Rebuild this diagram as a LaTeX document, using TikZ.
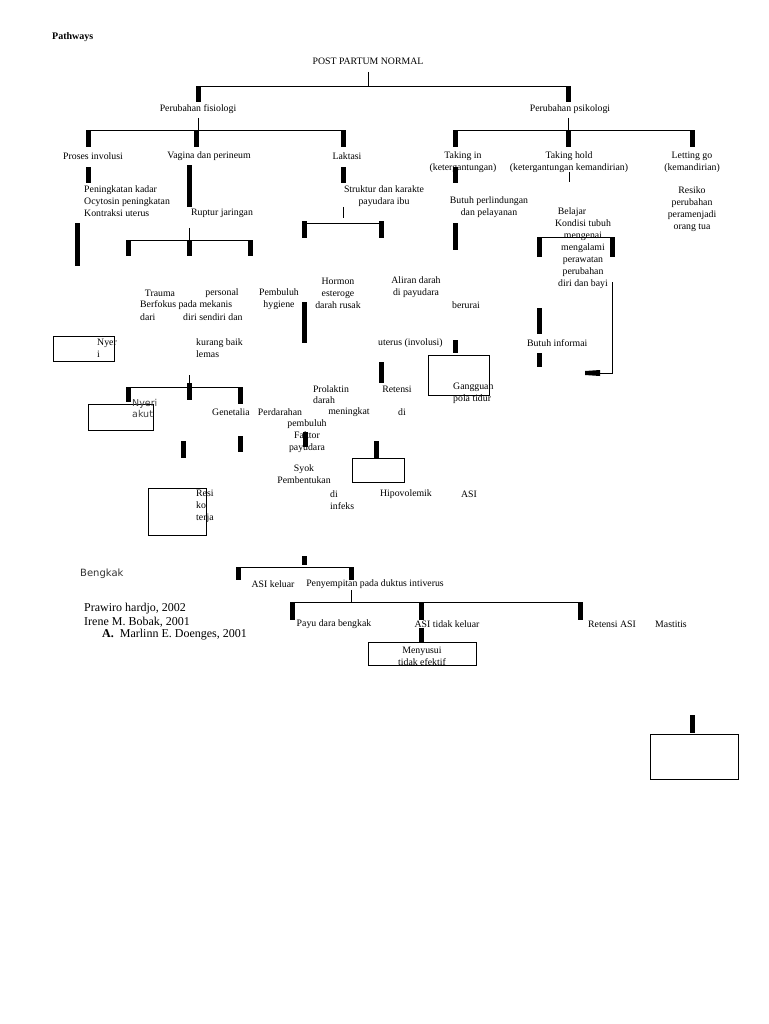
\documentclass[tikz,border=0pt]{standalone}
\usepackage{fontspec}
\setmainfont{Liberation Serif}
\setsansfont{DejaVu Sans}
\newcommand{\vb}[3]{\fill (#1-2.5,-#2) rectangle (#1+2.5,-#3);}
\begin{document}
\begin{tikzpicture}[x=1pt,y=1pt,
  t/.style={inner sep=0pt,font=\fontsize{9.8}{12}\selectfont},
  tl/.style={t,anchor=west},
  bx/.style={draw,line width=0.7pt},
  ln/.style={line width=0.7pt}]
\useasboundingbox[fill=white] (0,0) rectangle (768,-1024);
\node[tl,font=\bfseries\fontsize{10}{12}\selectfont] (pw) at (52,-37) {Pathways};
\node[t] (ppn) at (368,-61) {POST PARTUM NORMAL};
\draw[ln] (368,-72) -- (368,-86); \draw[ln] (198,-86) -- (568,-86);
\vb{198}{86}{102}\vb{568}{86}{102}
\node[t] (pf) at (198,-109) {Perubahan fisiologi};
\node[t] (pp) at (570,-109) {Perubahan psikologi};
\draw[ln] (198,-118) -- (198,-130); \draw[ln] (88,-130) -- (343,-130);
\vb{88}{130}{147}\vb{196}{130}{147}\vb{343}{130}{147}
\draw[ln] (568,-118) -- (568,-130); \draw[ln] (455,-130) -- (692,-130);
\vb{455}{130}{147}\vb{568}{130}{147}\vb{692}{130}{147}
\node[t] (pi) at (93,-156) {Proses involusi};
\node[t] (vp) at (209,-156) {Vagina dan perineum};
\node[t] (lk) at (347,-156) {Laktasi};
\node[t,align=center] (ti) at (463,-162) {Taking in\\(ketergantungan)};
\node[t,align=center] (th) at (569,-162) {Taking hold\\(ketergantungan kemandirian)};
\node[t,align=center] (lg) at (692,-162) {Letting go\\(kemandirian)};
\vb{88}{167}{183}
\node[tl,align=left] (pk) at (84,-201) {Peningkatan kadar\\Ocytosin peningkatan\\Kontraksi uterus};
\vb{189}{165}{207}
\node[t] (rj) at (222,-213) {Ruptur jaringan};
\vb{343}{167}{183}
\node[t,align=center] (sk) at (384,-196) {Struktur dan karakte\\payudara ibu};
\draw[ln] (343,-207) -- (343,-218); \draw[ln] (304,-223) -- (381,-223);
\vb{304}{221}{238}\vb{381}{221}{238}
\vb{455}{167}{183}
\node[t,align=center] (bp) at (489,-207) {Butuh perlindungan\\dan pelayanan};
\draw[ln] (569,-172) -- (569,-182);
\vb{455}{223}{250}
\node[t] (bl) at (572,-212) {Belajar};
\node[t,align=center] (kt) at (583,-254) {Kondisi tubuh\\mengenai\\mengalami\\perawatan\\perubahan\\diri dan bayi};
\draw[ln] (538,-237) -- (612,-237);
\vb{539}{237}{257}\vb{612}{237}{257}
\draw[ln] (612,-282) -- (612,-373) -- (598,-373);
\fill (585,-371) -- (600,-370) -- (600,-376) -- (585,-375) -- cycle;
\node[t,align=center] (rs) at (692,-209) {Resiko\\perubahan\\peramenjadi\\orang tua};
\vb{77}{223}{266}
\draw[ln] (189,-228) -- (189,-240); \draw[ln] (128,-240) -- (250,-240);
\vb{128}{240}{256}\vb{189}{240}{256}\vb{250}{240}{256}
\node[t] (tr) at (160,-293) {Trauma};
\node[t] (ps) at (222,-293) {personal};
\node[tl] (bf) at (140,-305) {Berfokus pada mekanis};
\node[tl] (dr) at (140,-317) {dari};
\node[tl] (ds) at (183,-317) {diri sendiri dan};
\node[t,align=center] (ph) at (279,-299) {Pembuluh\\hygiene};
\node[t,align=center] (hm) at (338,-293) {Hormon\\esteroge\\darah rusak};
\node[t,align=center] (ad) at (416,-287) {Aliran darah\\di payudara};
\node[t] (br) at (466,-305) {berurai};
\vb{304}{302}{343}
\draw[bx] (53,-336) rectangle (114,-361);
\node[tl,align=left] (ny) at (97,-348) {Nyer\\i};
\node[tl,align=left] (kb) at (196,-348) {kurang baik\\lemas};
\node[tl] (ui) at (378,-343) {uterus (involusi)};
\vb{455}{340}{353}
\node[tl] (bi) at (527,-343) {Butuh informai};
\vb{539}{308}{334}\vb{539}{353}{367}
\draw[bx] (428,-355) rectangle (489,-395);
\node[tl,align=left] (gp) at (453,-393) {Gangguan\\pola tidur};
\vb{381}{362}{383}
\draw[ln] (189,-375) -- (189,-387); \draw[ln] (128,-387) -- (240,-387);
\vb{128}{387}{402}\vb{189}{383}{400}\vb{240}{387}{404}
\draw[bx] (88,-404) rectangle (153,-430);
\node[tl,align=left,font=\sffamily\fontsize{9.5}{11}\selectfont,text=black!75] (na) at (132,-408) {Nyeri\\akut};
\node[t] (gn) at (231,-412) {Genetalia};
\node[t] (pd) at (280,-412) {Perdarahan};
\node[t] (pr) at (331,-389) {Prolaktin};
\node[tl] (dh) at (313,-400) {darah};
\node[t] (mn) at (349,-412) {meningkat};
\node[t] (rt) at (397,-389) {Retensi};
\node[t] (di1) at (402,-412) {di};
\node[t,align=center] (pbp) at (307,-436) {pembuluh\\Faktor\\payudara};
\vb{305}{432}{447}
\vb{183}{441}{458}\vb{240}{436}{452}\vb{376}{441}{458}
\draw[bx] (352,-458) rectangle (404,-482);
\node[t,align=center] (sy) at (304,-474) {Syok\\Pembentukan};
\draw[bx] (148,-488) rectangle (206,-535);
\node[tl,align=left] (rk) at (196,-506) {Resi\\ko\\terja};
\node[tl,align=left] (inf) at (330,-500) {di\\infeks};
\node[t] (hv) at (406,-494) {Hipovolemik};
\node[t] (asi) at (469,-494) {ASI};
\node[tl,font=\sffamily\fontsize{10}{12}\selectfont,text=black!80] (bk) at (80,-574) {Bengkak};
\vb{304}{556}{565}
\draw[ln] (238,-567) -- (352,-567);
\vb{238}{567}{580}\vb{351}{567}{580}
\node[t] (ak) at (273,-584) {ASI keluar};
\node[t] (pdi) at (375,-584) {Penyempitan pada duktus intiverus};
\draw[ln] (351,-590) -- (351,-602); \draw[ln] (292,-602) -- (580,-602);
\vb{292}{602}{620}\vb{421}{602}{620}\vb{580}{602}{620}
\node[t] (pdb) at (334,-624) {Payu dara bengkak};
\node[t] (atk) at (447,-624) {ASI tidak keluar};
\node[t] (ra) at (612,-624) {Retensi ASI};
\node[t] (ms) at (671,-624) {Mastitis};
\vb{421}{628}{642}
\draw[bx] (368,-642) rectangle (476,-665);
\node[t,align=center] (mt) at (422,-656) {Menyusui\\tidak efektif};
\node[tl,font=\fontsize{12}{13}\selectfont] (r1) at (84,-609) {Prawiro hardjo, 2002};
\node[tl,font=\fontsize{12}{13}\selectfont] (r2) at (84,-622) {Irene M. Bobak, 2001};
\node[tl,font=\fontsize{12}{13}\selectfont] (r3) at (102,-635) {\textbf{A.}\enspace Marlinn E. Doenges, 2001};
\vb{692}{715}{733}
\draw[bx] (650,-734) rectangle (738,-779);
\end{tikzpicture}
\end{document}
